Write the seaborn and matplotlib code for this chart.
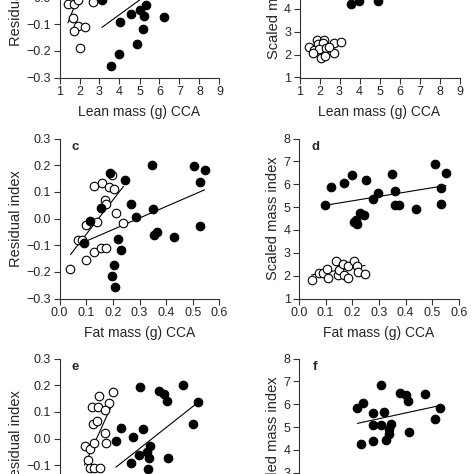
import matplotlib
matplotlib.use("Agg")
import numpy as np
import matplotlib.pyplot as plt
import seaborn as sns

# ---- panel a: residual index vs lean mass (only the lower part is in view)
a_open_x = [1.42, 1.70, 1.92, 1.65, 1.90, 2.28, 1.70, 2.03, 2.69]
a_open_y = [-0.026, -0.024, -0.011, -0.078, -0.106, -0.109, -0.127, -0.191, -0.015]
a_fill_x = [3.12, 4.02, 3.99, 3.56, 4.57, 5.02, 5.21, 5.35, 6.21, 5.15, 4.88]
a_fill_y = [-0.008, -0.092, -0.213, -0.256, -0.060, -0.048, -0.069, -0.028, -0.073, -0.119, -0.173]
a_open_fit = (-0.365, 0.19)      # (intercept, slope)
a_fill_fit = (-0.2826, 0.0546)

# ---- panel b: scaled mass index vs lean mass
b_open_x = [1.49, 1.87, 2.24, 1.94, 2.15, 2.74, 3.07, 1.74, 1.99, 2.32, 1.65, 2.07, 2.29, 2.70, 2.49]
b_open_y = [2.34, 2.63, 2.66, 2.45, 2.49, 2.49, 2.56, 2.20, 2.23, 2.27, 2.06, 1.84, 1.94, 2.08, 2.34]
b_fill_x = [3.57, 3.99, 4.90]
b_fill_y = [4.22, 4.33, 4.36]

# ---- panel c: residual index vs fat mass
c_open_x = [0.041, 0.069, 0.085, 0.0975, 0.100, 0.129, 0.131, 0.141, 0.154, 0.159,
            0.169, 0.1725, 0.175, 0.184, 0.196, 0.2025, 0.2125, 0.240]
c_open_y = [-0.1875, -0.081, -0.081, -0.025, -0.156, 0.121, -0.125, -0.0125, -0.109, 0.134,
            0.069, 0.056, -0.110, 0.119, 0.162, 0.1125, 0.0225, -0.015]
c_fill_x = [0.090, 0.116, 0.156, 0.191, 0.246, 0.269, 0.286, 0.221, 0.231, 0.206, 0.1975,
            0.209, 0.345, 0.351, 0.354, 0.365, 0.429, 0.505, 0.544, 0.525, 0.525]
c_fill_y = [-0.090, -0.010, 0.041, 0.169, 0.144, 0.056, 0.0075, -0.075, -0.119, -0.1725, -0.215,
            -0.256, 0.200, 0.0375, -0.060, -0.050, -0.070, 0.196, 0.181, 0.1375, -0.0275]
c_open_fit = (-0.188, 1.285)
c_fill_fit = (-0.1282, 0.4333)

# ---- panel d: scaled mass index vs fat mass
d_open_x = [0.0475, 0.075, 0.091, 0.106, 0.110, 0.1375, 0.145, 0.151, 0.166, 0.170,
            0.185, 0.1825, 0.2075, 0.216, 0.2225, 0.2475]
d_open_y = [1.80, 2.12, 2.12, 2.31, 1.90, 2.63, 2.02, 2.24, 2.49, 2.02,
            2.41, 1.90, 2.63, 2.43, 2.16, 2.06]
d_fill_x = [0.099, 0.120, 0.1675, 0.200, 0.2525, 0.2775, 0.296, 0.205, 0.215, 0.2175, 0.230,
            0.2425, 0.350, 0.359, 0.361, 0.374, 0.439, 0.511, 0.551, 0.5325, 0.5325]
d_fill_y = [5.08, 5.87, 6.07, 6.42, 6.19, 5.37, 5.61, 4.35, 4.43, 4.24, 4.76,
            4.67, 6.45, 5.71, 5.08, 5.08, 4.91, 6.88, 6.50, 5.84, 5.13]
d_open_fit = (1.93, 2.1)
d_fill_fit = (4.89, 1.915)

# ---- panel e: residual index vs third predictor (x axis out of view)
e_open_x = [1.98, 2.67, 1.63, 1.92, 2.47, 2.28, 1.65, 1.87, 2.28, 2.32, 1.25, 1.50, 1.73,
            1.42, 1.50, 1.73, 2.00]
e_open_y = [0.158, 0.173, 0.120, 0.1175, 0.132, 0.108, 0.056, 0.065, 0.022, -0.015, -0.027,
            -0.039, -0.015, -0.082, -0.110, -0.110, -0.110]
e_fill_x = [4.00, 4.95, 5.20, 5.37, 6.18, 6.93, 6.70, 3.07, 4.15, 2.82, 3.65, 4.53, 4.37,
            3.98, 4.48, 5.42, 3.58, 4.40]
e_fill_y = [0.193, 0.177, 0.166, 0.141, 0.200, 0.136, 0.056, 0.040, 0.034, -0.011, 0.007,
            -0.027, -0.051, -0.060, -0.072, -0.073, -0.092, -0.115]
e_open_fit = (-0.306, 0.165)
e_fill_fit = (-0.2746, 0.0592)

# ---- panel f: scaled mass index vs third predictor
f_fill_x = [2.92, 3.20, 3.72, 4.25, 4.12, 5.05, 5.33, 5.45, 6.30, 7.03, 6.80, 3.72, 4.12,
            4.58, 4.52, 4.50, 5.52, 3.12, 3.70, 4.35]
f_fill_y = [5.85, 6.05, 5.60, 5.67, 6.84, 6.47, 6.40, 6.15, 6.43, 5.82, 5.35, 5.08, 5.09,
            5.13, 4.90, 4.68, 4.77, 4.28, 4.39, 4.45]
f_fill_fit = (4.61, 0.189)

FIG_PX = 474
AX_PX = 160


def add_panel(fig, left_px, bottom_px):
    # axes placed in pixel units; the figure is a crop, so some axes run off the canvas
    return fig.add_axes([left_px / FIG_PX, (FIG_PX - bottom_px) / FIG_PX,
                         AX_PX / FIG_PX, AX_PX / FIG_PX])


def draw_fit(ax, x, fit):
    xs = np.array([min(x), max(x)])
    ax.plot(xs, fit[0] + fit[1] * xs, color='black', lw=0.8, zorder=1)


def draw_panel(ax, open_x, open_y, fill_x, fill_y, open_fit, fill_fit,
               xlim, ylim, xticks, yticks, xlabel, ylabel, letter):
    if open_fit is not None:
        draw_fit(ax, open_x, open_fit)
    if fill_fit is not None:
        draw_fit(ax, fill_x, fill_fit)
    if open_x:
        sns.scatterplot(x=open_x, y=open_y, ax=ax, s=38, color='white',
                        edgecolor='black', linewidth=0.8, zorder=3)
    sns.scatterplot(x=fill_x, y=fill_y, ax=ax, s=38, color='black',
                    edgecolor='black', linewidth=0.8, zorder=3)

    ax.set_xlim(*xlim)
    ax.set_ylim(*ylim)
    ax.set_xticks(xticks)
    ax.set_yticks(yticks)
    ax.set_xlabel(xlabel, fontsize=10, labelpad=5)
    ax.set_ylabel(ylabel, fontsize=10.5, labelpad=2.5)
    ax.tick_params(labelsize=9, length=4, width=0.8, pad=2, color='#333333')
    for side in ['left', 'bottom']:
        ax.spines[side].set_linewidth(0.8)
        ax.spines[side].set_color('#333333')
    sns.despine(ax=ax)
    ax.text(0.1, 0.95, letter, transform=ax.transAxes, fontsize=9.5,
            fontweight='bold', ha='center', va='center')


def main():
    sns.set_style('ticks')
    plt.rcParams['font.family'] = ['Liberation Sans', 'DejaVu Sans']

    fig = plt.figure(figsize=(4.74, 4.74), dpi=100)

    resid_ticks = np.round(np.arange(-0.3, 0.31, 0.1), 1)
    smi_ticks = np.arange(1, 9)

    ax_a = add_panel(fig, 59.5, 77.5)
    draw_panel(ax_a, a_open_x, a_open_y, a_fill_x, a_fill_y, a_open_fit, a_fill_fit,
               (1, 9), (-0.3, 0.3), np.arange(1, 10), resid_ticks,
               'Lean mass (g) CCA', 'Residual index', 'a')

    ax_b = add_panel(fig, 299.5, 77.5)
    draw_panel(ax_b, b_open_x, b_open_y, b_fill_x, b_fill_y, None, None,
               (1, 9), (1, 8), np.arange(1, 10), smi_ticks,
               'Lean mass (g) CCA', 'Scaled mass index', 'b')

    ax_c = add_panel(fig, 59.5, 298.5)
    draw_panel(ax_c, c_open_x, c_open_y, c_fill_x, c_fill_y, c_open_fit, c_fill_fit,
               (0, 0.6), (-0.3, 0.3), np.round(np.arange(0, 0.61, 0.1), 1), resid_ticks,
               'Fat mass (g) CCA', 'Residual index', 'c')

    ax_d = add_panel(fig, 299.0, 298.5)
    draw_panel(ax_d, d_open_x, d_open_y, d_fill_x, d_fill_y, d_open_fit, d_fill_fit,
               (0, 0.6), (1, 8), np.round(np.arange(0, 0.61, 0.1), 1), smi_ticks,
               'Fat mass (g) CCA', 'Scaled mass index', 'd')

    ax_e = add_panel(fig, 59.5, 518.5)
    draw_panel(ax_e, e_open_x, e_open_y, e_fill_x, e_fill_y, e_open_fit, e_fill_fit,
               (0, 8), (-0.3, 0.3), np.arange(0, 9), resid_ticks,
               '', 'Residual index', 'e')

    ax_f = add_panel(fig, 299.0, 518.5)
    draw_panel(ax_f, [], [], f_fill_x, f_fill_y, None, f_fill_fit,
               (0, 8), (1, 8), np.arange(0, 9), smi_ticks,
               '', 'Scaled mass index', 'f')

    fig.savefig('out.png', dpi=100)
    plt.close(fig)


if __name__ == "__main__":
    main()
